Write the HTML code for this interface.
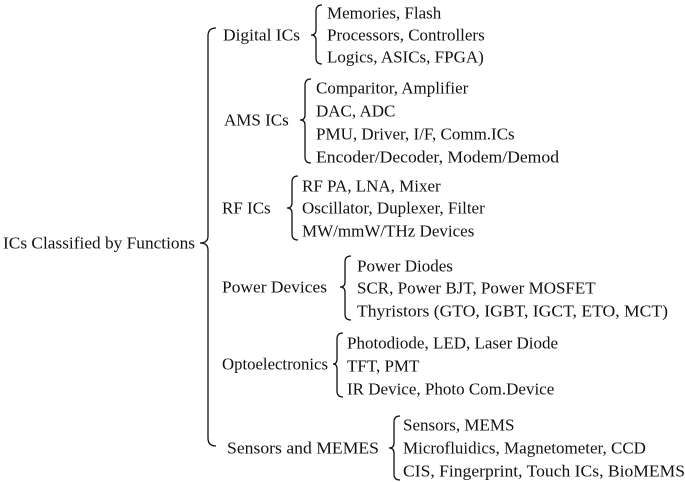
<!DOCTYPE html>
<html><head><meta charset="utf-8"><style>
html,body{margin:0;padding:0;background:#fff;}
svg{display:block;}
text{font-family:"Liberation Serif","Times New Roman","DejaVu Serif",serif;font-size:17px;fill:#111;dominant-baseline:central;}
path{fill:none;stroke:#111;stroke-width:1.3;}
</style></head><body>
<svg width="685" height="482" viewBox="0 0 685 482" xmlns="http://www.w3.org/2000/svg">
<text x="3" y="243" textLength="192" lengthAdjust="spacingAndGlyphs">ICs Classified by Functions</text>
<path d="M216,28 Q208,28 208,36 L208,236 Q208,243 200,243 Q208,243 208,250 L208,438 Q208,446 216,446"/>

<text x="223" y="35" textLength="77" lengthAdjust="spacingAndGlyphs">Digital ICs</text>
<path d="M322,5 Q316,5 316,11 L316,30 Q316,35 311,35 Q316,35 316,40 L316,58 Q316,64 322,64"/>
<text x="327" y="13">Memories, Flash</text>
<text x="327" y="35">Processors, Controllers</text>
<text x="327" y="57">Logics, ASICs, FPGA)</text>

<text x="224" y="120">AMS ICs</text>
<path d="M311,79 Q305,79 305,85 L305,115 Q305,120 300,120 Q305,120 305,125 L305,157 Q305,163 311,163"/>
<text x="316" y="88">Comparitor, Amplifier</text>
<text x="316" y="111">DAC, ADC</text>
<text x="316" y="134">PMU, Driver, I/F, Comm.ICs</text>
<text x="316" y="157" textLength="243" lengthAdjust="spacingAndGlyphs">Encoder/Decoder, Modem/Demod</text>

<text x="222" y="208">RF ICs</text>
<path d="M298,176 Q292,176 292,182 L292,203 Q292,208 287,208 Q292,208 292,213 L292,234 Q292,240 298,240"/>
<text x="302" y="186">RF PA, LNA, Mixer</text>
<text x="302" y="208">Oscillator, Duplexer, Filter</text>
<text x="302" y="231">MW/mmW/THz Devices</text>

<text x="222" y="287" textLength="105" lengthAdjust="spacingAndGlyphs">Power Devices</text>
<path d="M351,256 Q345,256 345,262 L345,282 Q345,287 340,287 Q345,287 345,292 L345,314 Q345,320 351,320"/>
<text x="357" y="266">Power Diodes</text>
<text x="357" y="288">SCR, Power BJT, Power MOSFET</text>
<text x="357" y="311" textLength="311" lengthAdjust="spacingAndGlyphs">Thyristors (GTO, IGBT, IGCT, ETO, MCT)</text>

<text x="222" y="364" textLength="106" lengthAdjust="spacingAndGlyphs">Optoelectronics</text>
<path d="M343,333 Q337,333 337,339 L337,359 Q337,364 333,364 Q337,364 337,369 L337,391 Q337,397 343,397"/>
<text x="347" y="343">Photodiode, LED, Laser Diode</text>
<text x="347" y="366">TFT, PMT</text>
<text x="347" y="389">IR Device, Photo Com.Device</text>

<text x="227" y="448" textLength="152" lengthAdjust="spacingAndGlyphs">Sensors and MEMES</text>
<path d="M400,416 Q394,416 394,422 L394,443 Q394,448 389,448 Q394,448 394,453 L394,474 Q394,480 400,480"/>
<text x="403" y="425">Sensors, MEMS</text>
<text x="403" y="448">Microfluidics, Magnetometer, CCD</text>
<text x="403" y="471" textLength="282" lengthAdjust="spacingAndGlyphs">CIS, Fingerprint, Touch ICs, BioMEMS</text>
</svg>
</body></html>
